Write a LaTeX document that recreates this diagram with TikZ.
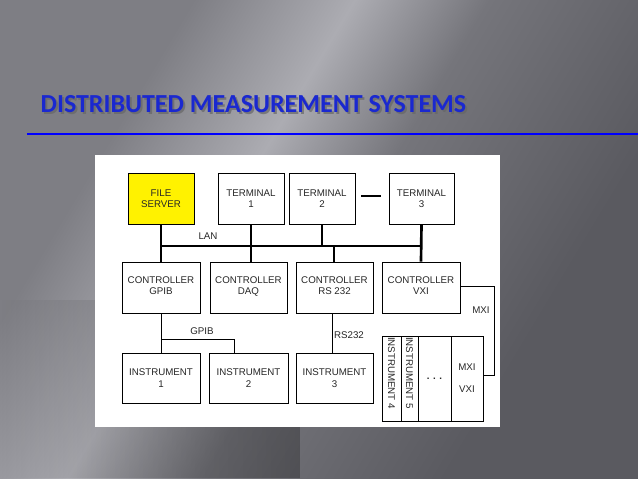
\documentclass[tikz,border=0pt]{standalone}
\usepackage{fontspec}
\usetikzlibrary{fadings}
\setmainfont{Liberation Sans}
\newfontfamily\titlefont{Carlito}
\definecolor{bgA}{HTML}{7E7E84}
\definecolor{bgB}{HTML}{ACACB2}
\definecolor{bgC}{HTML}{75757B}
\definecolor{bgD}{HTML}{5A5A60}
\definecolor{titleblue}{HTML}{1A28D0}
\pgfdeclarehorizontalshading{bgshade}{100bp}{color(0bp)=(bgA); color(30bp)=(bgA); color(42bp)=(bgB); color(52bp)=(bgC); color(70bp)=(bgD); color(100bp)=(bgD)}
\begin{document}
\begin{tikzpicture}[x=0.75pt,y=-0.75pt,
  box/.style={draw=black,line width=0.7pt,fill=white,inner sep=0pt,align=center,font=\fontsize{7.3}{8.5}\selectfont,text=black!85},
  bus/.style={line width=2pt},
  thin/.style={line width=0.6pt},
  lbl/.style={font=\fontsize{7.3}{8.5}\selectfont,text=black!85,inner sep=1pt}]
\useasboundingbox (0,0) rectangle (638,478);
\shade[shading=bgshade,shading angle=-31] (0,0) rectangle (638,478);
\fill[black,opacity=0.25,path fading=west] (0,300) rectangle (300,478);
\node[font=\titlefont\bfseries\fontsize{19.5}{22}\selectfont,text=black!60,anchor=west,opacity=0.7] at (38,106.5) {DISTRIBUTED MEASUREMENT SYSTEMS};
\node[font=\titlefont\bfseries\fontsize{19.5}{22}\selectfont,text=titleblue,anchor=west] (title) at (36,104) {DISTRIBUTED MEASUREMENT SYSTEMS};
\draw[blue,line width=1.2pt] (27,134) -- (638,134);
\fill[white] (95,155) rectangle (500,427);
% top
\node[box,fill=yellow,minimum width=66*0.75pt,minimum height=51*0.75pt] (fs) at (161,198.5) {FILE\\SERVER};
\node[box,minimum width=66*0.75pt,minimum height=51*0.75pt] (t1) at (251,198.5) {TERMINAL\\1};
\node[box,minimum width=66*0.75pt,minimum height=51*0.75pt] (t2) at (322,198.5) {TERMINAL\\2};
\node[box,minimum width=65*0.75pt,minimum height=51*0.75pt] (t3) at (421.5,198.5) {TERMINAL\\3};
\coordinate (da) at (361,196); \coordinate (db) at (381,196);
\draw[bus] (da) -- (db);
% controllers
\node[box,minimum width=78*0.75pt,minimum height=51*0.75pt] (cg) at (161,287.5) {CONTROLLER\\GPIB\strut};
\node[box,minimum width=77*0.75pt,minimum height=51*0.75pt] (cd) at (248.5,287.5) {CONTROLLER\\DAQ\strut};
\node[box,minimum width=77*0.75pt,minimum height=51*0.75pt] (cr) at (334.5,287.5) {CONTROLLER\\RS 232\strut};
\node[box,minimum width=78*0.75pt,minimum height=51*0.75pt] (cv) at (421,287.5) {CONTROLLER\\VXI\strut};
% instruments
\node[box,minimum width=78*0.75pt,minimum height=50*0.75pt] (i1) at (161,378) {INSTRUMENT\\1};
\node[box,minimum width=79*0.75pt,minimum height=50*0.75pt] (i2) at (248.5,378) {INSTRUMENT\\2};
\node[box,minimum width=77*0.75pt,minimum height=50*0.75pt] (i3) at (334.5,378) {INSTRUMENT\\3};
% VXI chassis
\node[box,minimum width=19*0.75pt,minimum height=85*0.75pt] (i4) at (391.5,378.5) {};
\node[box,minimum width=17*0.75pt,minimum height=85*0.75pt] (i5) at (409.5,378.5) {};
\node[box,minimum width=33*0.75pt,minimum height=85*0.75pt] (dots) at (434.5,378.5) {\textbf{. . .}};
\node[box,minimum width=32*0.75pt,minimum height=85*0.75pt] (mx) at (467,378.5) {MXI\\[8pt]VXI};
\node[lbl,rotate=-90,anchor=west] at (i4.north) {INSTRUMENT 4};
\node[lbl,rotate=-90,anchor=west] at (i5.north) {INSTRUMENT 5};
% LAN bus
\coordinate (bl) at (161,246); \coordinate (br) at (421,246);
\draw[bus] (bl) -- (br);
\draw[bus] (fs.south) -- (cg.north);
\draw[bus] (t1.south) -- (cd.north -| t1.south);
\draw[bus] (t2.south) -- (t2.south |- bl);
\draw[bus] (cr.north -| 334,0) -- (334,246);
\draw[bus] (t3.south) -- (cv.north);
\node[lbl] at (208,236) {LAN};
% GPIB
\coordinate (g1) at (161,339); \coordinate (g2) at (234,339);
\draw[thin] (cg.south) -- (i1.north);
\draw[thin] (g1) -- (g2) -- (i2.north -| g2);
\node[lbl] at (202,331) {GPIB};
% RS232
\draw[thin] (cr.south -| 332,0) -- (i3.north -| 332,0);
\node[lbl] at (349,335) {RS232};
% MXI
\coordinate (m1) at (494,286); \coordinate (m2) at (494,375);
\draw[thin] (cv.east |- m1) -- (m1) -- (m2) -- (mx.east |- m2);
\node[lbl] at (481,310) {MXI};
\end{tikzpicture}
\end{document}
